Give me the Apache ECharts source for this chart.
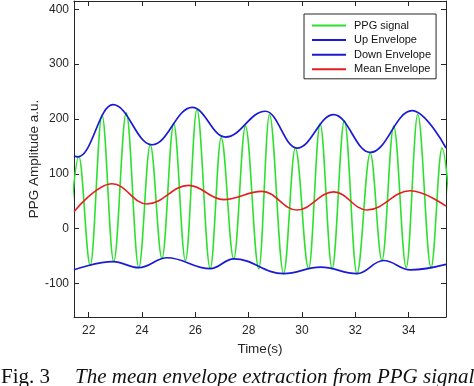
<!DOCTYPE html>
<html>
<head>
<meta charset="utf-8">
<script src="https://cdn.jsdelivr.net/npm/echarts@6/dist/echarts.min.js"></script>
<style>
html,body{margin:0;padding:0;background:#fff;}
#chart{width:474px;height:386px;}
</style>
</head>
<body>
<div id="chart"></div>
<script>
// Tick labels
var xTicks = [22, 24, 26, 28, 30, 32, 34];
var yTicks = [-100, 0, 100, 200, 300, 400];

// PPG signal: alternating troughs / peaks (time s, amplitude)
var ppgTime  = [21.18, 21.63, 22.06, 22.50, 22.94, 23.41, 23.88, 24.31, 24.75, 25.19, 25.63, 26.06, 26.56, 26.97, 27.44, 27.88, 28.38, 28.78, 29.31, 29.75, 30.25, 30.68, 31.13, 31.59, 32.06, 32.56, 33.00, 33.44, 33.91, 34.34, 34.84, 35.25, 35.72];
var ppgValue = [-75, 132, -67, 207, -60, 211, -71, 153, -54, 191, -58, 217, -73, 166, -55, 187, -73, 208, -82, 147, -73, 191, -73, 197, -82, 138, -58, 187, -71, 208, -71, 147, -68];

// Upper envelope
var upTime  = [21.45, 21.60, 22.91, 24.38, 25.88, 27.13, 28.63, 29.81, 31.19, 32.56, 34.13, 35.40];
var upValue = [133, 131, 226, 153, 221, 167, 214, 147, 208, 139, 215, 147];

// Lower envelope
var downTime  = [21.45, 22.91, 23.88, 24.94, 26.56, 27.44, 29.31, 30.70, 32.06, 33.06, 34.06, 35.40];
var downValue = [-75, -60, -71, -53, -73, -55, -82, -70, -82, -58, -75, -65];

// Mean envelope
var meanTime  = [21.45, 22.88, 24.19, 25.75, 27.06, 28.50, 29.81, 31.19, 32.44, 34.06, 35.40];
var meanValue = [31, 82, 45, 79, 53, 68, 34, 67, 34, 69, 41];

function pairs(t, v) { return t.map(function (x, i) { return [x, v[i]]; }); }

var axisColor = '#262626';
var sans = 'Liberation Sans, Arial, sans-serif';

var chart = echarts.init(document.getElementById('chart'), null, {renderer: 'canvas'});
chart.setOption({
  animation: false,
  backgroundColor: '#fff',
  title: {
    left: 1, top: 367, padding: 0,
    text: '{a|Fig. 3}{b|The mean envelope extraction from PPG signal}',
    textStyle: {
      fontWeight: 'normal',
      rich: {
        a: {fontFamily: 'Liberation Serif', fontSize: 21, fontWeight: 'normal', color: '#111', width: 74},
        b: {fontFamily: 'Liberation Serif', fontSize: 21, fontWeight: 'normal', fontStyle: 'italic', color: '#111'}
      }
    }
  },
  legend: {
    orient: 'vertical',
    left: 304, top: 14,
    padding: [6, 5, 4, 7],
    itemWidth: 34, itemHeight: 12, itemGap: 3.6,
    itemStyle: {opacity: 0},
    borderColor: axisColor, borderWidth: 1, backgroundColor: '#fff',
    textStyle: {fontFamily: sans, fontSize: 11, color: '#111', padding: [0, 0, 0, 3]},
    data: ['PPG signal', 'Up Envelope', 'Down Envelope', 'Mean Envelope']
  },
  grid: {left: 74, right: 28, top: 1, bottom: 69, containLabel: false},
  xAxis: [{
    type: 'value', min: 21.45, max: 35.4, position: 'bottom',
    name: 'Time(s)', nameLocation: 'middle', nameGap: 25, nameMoveOverlap: false,
    nameTextStyle: {fontFamily: sans, fontSize: 13.5, color: axisColor},
    axisLine: {onZero: false, lineStyle: {color: axisColor, width: 1}},
    axisTick: {inside: true, length: 5, customValues: xTicks, lineStyle: {color: axisColor}},
    axisLabel: {customValues: xTicks, margin: 8, fontFamily: sans, fontSize: 12, color: axisColor},
    splitLine: {show: false}
  }, {
    type: 'value', min: 21.45, max: 35.4, position: 'top',
    axisLine: {onZero: false, lineStyle: {color: axisColor, width: 1}},
    axisTick: {inside: true, length: 5, customValues: xTicks, lineStyle: {color: axisColor}},
    axisLabel: {show: false},
    splitLine: {show: false}
  }],
  yAxis: [{
    type: 'value', min: -161, max: 415, position: 'left',
    name: 'PPG Amplitude a.u.', nameLocation: 'middle', nameGap: 33, nameMoveOverlap: false,
    nameTextStyle: {fontFamily: sans, fontSize: 13.5, color: axisColor},
    axisLine: {show: true, onZero: false, lineStyle: {color: axisColor, width: 1}},
    axisTick: {show: true, inside: true, length: 5, customValues: yTicks, lineStyle: {color: axisColor}},
    axisLabel: {customValues: yTicks, margin: 5, fontFamily: sans, fontSize: 12, color: axisColor},
    splitLine: {show: false}
  }, {
    type: 'value', min: -161, max: 415, position: 'right',
    axisLine: {show: true, onZero: false, lineStyle: {color: axisColor, width: 1}},
    axisTick: {show: true, inside: true, length: 5, customValues: yTicks, lineStyle: {color: axisColor}},
    axisLabel: {show: false},
    splitLine: {show: false}
  }],
  series: [{
    name: 'PPG signal', type: 'line', data: pairs(ppgTime, ppgValue),
    smooth: 0.36, smoothMonotone: 'x', symbol: 'none', clip: true,
    lineStyle: {color: '#2ee02e', width: 1.6}, itemStyle: {color: '#2ee02e'}
  }, {
    name: 'Up Envelope', type: 'line', data: pairs(upTime, upValue),
    smooth: 0.4, smoothMonotone: 'x', symbol: 'none', clip: true,
    lineStyle: {color: '#1a1ad6', width: 1.7}, itemStyle: {color: '#1a1ad6'}
  }, {
    name: 'Down Envelope', type: 'line', data: pairs(downTime, downValue),
    smooth: 0.4, smoothMonotone: 'x', symbol: 'none', clip: true,
    lineStyle: {color: '#1a1ad6', width: 1.7}, itemStyle: {color: '#1a1ad6'}
  }, {
    name: 'Mean Envelope', type: 'line', data: pairs(meanTime, meanValue),
    smooth: 0.4, smoothMonotone: 'x', symbol: 'none', clip: true,
    lineStyle: {color: '#e81e1e', width: 1.6}, itemStyle: {color: '#e81e1e'}
  }]
});
</script>
</body>
</html>
